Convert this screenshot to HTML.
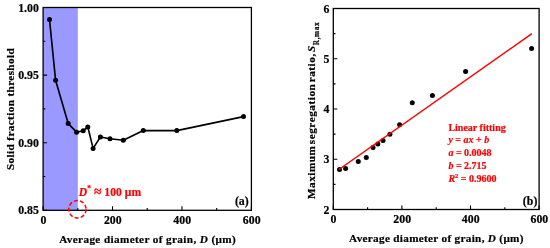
<!DOCTYPE html>
<html lang="en"><head><meta charset="utf-8"><title>Figure</title>
<style>html,body{margin:0;padding:0;background:#fff;}body{width:550px;height:248px;overflow:hidden;}svg{display:block;}text{font-family:"Liberation Serif","Times New Roman",Times,serif;font-weight:bold;fill:#000;stroke:#000;stroke-width:0.2px;}.t{font-size:11.8px;letter-spacing:0.05px;}.a{font-size:11.2px;letter-spacing:0.31px;}.r{fill:#ff0000;stroke:#ff0000;}.f{font-size:10px;fill:#ff0000;stroke:#ff0000;stroke-width:0.2px;}i,.i{font-style:italic;}</style></head><body>
<svg width="550" height="248" viewBox="0 0 550 248">
<rect x="0" y="0" width="550" height="248" fill="#fff"/>
<rect x="43.10" y="7.50" width="34.72" height="202.80" fill="#9999ff"/>
<rect x="43.10" y="7.50" width="208.30" height="202.80" fill="none" stroke="#000" stroke-width="1.3"/>
<path d="M43.10 7.50h4M43.10 75.10h4M43.10 142.70h4M43.10 210.30h4M43.10 41.30h2.2M43.10 108.90h2.2M43.10 176.50h2.2M43.10 210.30v-4M112.53 210.30v-4M181.97 210.30v-4M251.40 210.30v-4M77.82 210.30v-2.2M147.25 210.30v-2.2M216.68 210.30v-2.2" stroke="#000" stroke-width="1.1" fill="none"/>
<text class="t" x="39.0" y="11.50" text-anchor="end">1.00</text>
<text class="t" x="39.0" y="79.10" text-anchor="end">0.95</text>
<text class="t" x="39.0" y="146.70" text-anchor="end">0.90</text>
<text class="t" x="39.0" y="214.30" text-anchor="end">0.85</text>
<text class="t" x="43.40" y="224.20" text-anchor="middle">0</text>
<text class="t" x="112.83" y="224.20" text-anchor="middle">200</text>
<text class="t" x="182.27" y="224.20" text-anchor="middle">400</text>
<text class="t" x="251.70" y="224.20" text-anchor="middle">600</text>
<text class="a" style="letter-spacing:0.38px" x="147.6" y="242.80" text-anchor="middle">Average diameter of grain, <tspan class="i">D</tspan> (μm)</text>
<text class="a" style="letter-spacing:0.38px" transform="translate(13.6 109.0) rotate(-90)" text-anchor="middle">Solid fraction threshold</text>
<polyline points="49.5,19.5 55.6,80.3 68.2,123.6 76.6,132.2 83.2,130.8 87.8,126.9 93.1,148.4 100.4,137.0 110.0,138.7 123.3,140.3 143.3,130.6 176.8,130.6 243.5,116.6" fill="none" stroke="#000" stroke-width="1.65" stroke-linejoin="round"/>
<circle cx="49.5" cy="19.5" r="2.5" fill="#000"/>
<circle cx="55.6" cy="80.3" r="2.5" fill="#000"/>
<circle cx="68.2" cy="123.6" r="2.5" fill="#000"/>
<circle cx="76.6" cy="132.2" r="2.5" fill="#000"/>
<circle cx="83.2" cy="130.8" r="2.5" fill="#000"/>
<circle cx="87.8" cy="126.9" r="2.5" fill="#000"/>
<circle cx="93.1" cy="148.4" r="2.5" fill="#000"/>
<circle cx="100.4" cy="137.0" r="2.5" fill="#000"/>
<circle cx="110.0" cy="138.7" r="2.5" fill="#000"/>
<circle cx="123.3" cy="140.3" r="2.5" fill="#000"/>
<circle cx="143.3" cy="130.6" r="2.5" fill="#000"/>
<circle cx="176.8" cy="130.6" r="2.5" fill="#000"/>
<circle cx="243.5" cy="116.6" r="2.5" fill="#000"/>
<circle cx="77.4" cy="209.3" r="8.7" fill="none" stroke="#ff0000" stroke-width="1.5" stroke-dasharray="4.0 2.2"/>
<text class="t r" style="font-size:11.6px" x="78.7" y="195.9"><tspan class="i">D</tspan><tspan font-size="7.5" dy="-4.7">*</tspan><tspan dy="4.7"> </tspan><tspan font-size="13.6">≈</tspan><tspan> 100 μm</tspan></text>
<text class="t" x="248.8" y="205.2" text-anchor="end">(a)</text>
<rect x="333.30" y="8.50" width="205.80" height="201.00" fill="none" stroke="#000" stroke-width="1.3"/>
<path d="M333.30 8.50h4M333.30 58.75h4M333.30 109.00h4M333.30 159.25h4M333.30 209.50h4M333.30 33.62h2.2M333.30 83.88h2.2M333.30 134.12h2.2M333.30 184.38h2.2M333.30 209.50v-4M401.90 209.50v-4M470.50 209.50v-4M539.10 209.50v-4M367.60 209.50v-2.2M436.20 209.50v-2.2M504.80 209.50v-2.2" stroke="#000" stroke-width="1.1" fill="none"/>
<text class="t" x="329.4" y="12.50" text-anchor="end">6</text>
<text class="t" x="329.4" y="62.75" text-anchor="end">5</text>
<text class="t" x="329.4" y="113.00" text-anchor="end">4</text>
<text class="t" x="329.4" y="163.25" text-anchor="end">3</text>
<text class="t" x="329.4" y="213.50" text-anchor="end">2</text>
<text class="t" x="333.60" y="223.40" text-anchor="middle">0</text>
<text class="t" x="402.20" y="223.40" text-anchor="middle">200</text>
<text class="t" x="470.80" y="223.40" text-anchor="middle">400</text>
<text class="t" x="539.40" y="223.40" text-anchor="middle">600</text>
<text class="a" x="436.4" y="241.50" text-anchor="middle">Average diameter of grain, <tspan class="i">D</tspan> (μm)</text>
<text class="a" style="letter-spacing:0.55px;word-spacing:-2px" transform="translate(314.8 110.5) rotate(-90)" text-anchor="middle">Maximum segregation ratio, <tspan class="i">S</tspan><tspan font-size="7.3" dy="3.8">R,max</tspan></text>
<circle cx="339.5" cy="169.6" r="2.5" fill="#000"/>
<circle cx="345.6" cy="168.4" r="2.5" fill="#000"/>
<circle cx="358.3" cy="161.4" r="2.5" fill="#000"/>
<circle cx="366.3" cy="157.5" r="2.5" fill="#000"/>
<circle cx="373.0" cy="147.6" r="2.5" fill="#000"/>
<circle cx="377.8" cy="143.9" r="2.5" fill="#000"/>
<circle cx="383.0" cy="140.6" r="2.5" fill="#000"/>
<circle cx="389.9" cy="134.2" r="2.5" fill="#000"/>
<circle cx="399.6" cy="124.7" r="2.5" fill="#000"/>
<circle cx="412.3" cy="102.7" r="2.5" fill="#000"/>
<circle cx="432.4" cy="95.6" r="2.5" fill="#000"/>
<circle cx="465.6" cy="71.4" r="2.5" fill="#000"/>
<circle cx="531.6" cy="48.5" r="2.5" fill="#000"/>
<line x1="338.9" y1="169.5" x2="531.9" y2="33.7" stroke="#ff0000" stroke-width="1.5"/>
<text class="f" x="448.4" y="130.9">Linear fitting</text>
<text class="f" x="448.4" y="143.3"><tspan class="i">y</tspan> = <tspan class="i">ax</tspan> + <tspan class="i">b</tspan></text>
<text class="f" x="448.4" y="155.6"><tspan class="i">a</tspan> = 0.0048</text>
<text class="f" x="448.4" y="168.7"><tspan class="i">b</tspan> = 2.715</text>
<text class="f" x="448.4" y="182.4"><tspan class="i">R</tspan><tspan font-size="6.5" dy="-4">2</tspan><tspan dy="4"> = 0.9600</tspan></text>
<text class="t" x="537.4" y="205.3" text-anchor="end">(b)</text>
</svg></body></html>
